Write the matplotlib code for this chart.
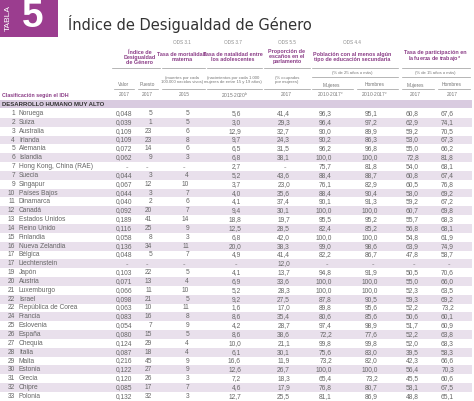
import matplotlib.pyplot as plt
from matplotlib.patches import Rectangle

plt.rcParams["font.family"] = ["Liberation Sans Narrow", "Liberation Sans", "DejaVu Sans"]

ranks = ["1", "2", "3", "4", "5", "6", "7", "7", "9", "10", "11", "12", "13", "14", "15", "16",
         "17", "17", "19", "20", "21", "22", "22", "24", "25", "26", "27", "28", "29", "30", "31", "32", "33"]
countries = ["Noruega", "Suiza", "Australia", "Irlanda", "Alemania", "Islandia", "Hong Kong, China (RAE)",
             "Suecia", "Singapur", "Países Bajos", "Dinamarca", "Canadá", "Estados Unidos", "Reino Unido",
             "Finlandia", "Nueva Zelandia", "Bélgica", "Liechtenstein", "Japón", "Austria", "Luxemburgo",
             "Israel", "República de Corea", "Francia", "Eslovenia", "España", "Chequia", "Italia", "Malta",
             "Estonia", "Grecia", "Chipre", "Polonia"]
idg_valor = ["0,048", "0,039", "0,109", "0,109", "0,072", "0,062", "..", "0,044", "0,067", "0,044", "0,040",
             "0,092", "0,189", "0,116", "0,058", "0,136", "0,048", "..", "0,103", "0,071", "0,066", "0,098",
             "0,063", "0,083", "0,054", "0,080", "0,124", "0,087", "0,216", "0,122", "0,120", "0,085", "0,132"]
idg_puesto = ["5", "1", "23", "23", "14", "9", "..", "3", "12", "3", "2", "20", "41", "25", "8", "34", "5", "..",
              "22", "13", "11", "21", "10", "16", "7", "15", "29", "18", "45", "27", "26", "17", "32"]
mortalidad = ["5", "5", "6", "8", "6", "3", "..", "4", "10", "7", "6", "7", "14", "9", "3", "11", "7", "..",
              "5", "4", "10", "5", "11", "8", "9", "5", "4", "4", "9", "9", "3", "7", "3"]
natalidad = ["5,6", "3,0", "12,9", "9,7", "6,5", "6,8", "2,7", "5,2", "3,7", "4,0", "4,1", "9,4", "18,8", "12,5",
             "6,8", "20,0", "4,9", "..", "4,1", "6,9", "5,2", "9,2", "1,6", "8,6", "4,2", "8,6", "10,0", "6,1",
             "16,6", "12,6", "7,2", "4,6", "12,7"]
escanos = ["41,4", "29,3", "32,7", "24,3", "31,5", "38,1", "..", "43,6", "23,0", "35,6", "37,4", "30,1", "19,7",
           "28,5", "42,0", "38,3", "41,4", "12,0", "13,7", "33,6", "28,3", "27,5", "17,0", "35,4", "28,7", "38,6",
           "21,1", "30,1", "11,9", "26,7", "18,3", "17,9", "25,5"]
educ_muj = ["96,3", "96,4", "90,0", "90,2", "96,2", "100,0", "75,7", "88,4", "76,1", "88,4", "90,1", "100,0",
            "95,5", "82,4", "100,0", "99,0", "82,2", "..", "94,8", "100,0", "100,0", "87,8", "89,8", "80,6",
            "97,4", "72,2", "99,8", "75,6", "73,2", "100,0", "65,4", "76,8", "81,1"]
educ_hom = ["95,1", "97,2", "89,9", "86,3", "96,8", "100,0", "81,8", "88,7", "82,9", "90,4", "91,3", "100,0",
            "95,2", "85,2", "100,0", "98,6", "86,7", "..", "91,9", "100,0", "100,0", "90,5", "95,6", "85,6",
            "98,9", "77,6", "99,8", "83,0", "82,0", "100,0", "73,2", "80,7", "86,9"]
lab_muj = ["60,8", "62,9", "59,2", "53,0", "55,0", "72,8", "54,0", "60,8", "60,5", "58,0", "59,2", "60,7",
           "55,7", "56,8", "54,8", "63,9", "47,8", "..", "50,5", "55,0", "52,3", "59,3", "52,2", "50,6", "51,7",
           "52,2", "52,0", "39,5", "42,3", "56,4", "45,5", "58,1", "48,8"]
lab_hom = ["67,6", "74,1", "70,5", "67,3", "66,2", "81,8", "68,1", "67,4", "76,8", "69,2", "67,2", "69,8",
           "68,3", "68,1", "61,9", "74,9", "58,7", "..", "70,6", "66,0", "63,5", "69,2", "73,2", "60,1", "60,9",
           "63,8", "68,3", "58,3", "66,6", "70,3", "60,6", "67,5", "65,1"]

columns = [idg_valor, idg_puesto, mortalidad, natalidad, escanos, educ_muj, educ_hom, lab_muj, lab_hom]
col_right = [132, 152, 189, 241, 290, 332, 378, 419, 454]
col_center = [124, 147, 184, 235, 286, 331, 375, 415, 452]

purple = "#9b3d8f"
stripe = "#e9e0ec"
band = "#d9cbe0"
txt = "#666666"
head = "#8a3c86"

fig = plt.figure(figsize=(4.74, 4.01), dpi=100)
ax = fig.add_axes([0, 0, 1, 1])
ax.set_xlim(0, 474)
ax.set_ylim(401, 0)
ax.axis("off")

# title block
ax.add_patch(Rectangle((0, 0), 58, 37, color=purple, lw=0))
ax.text(8, 18, "TABLA", rotation=90, color="white", fontsize=6, ha="center", va="center")
ax.text(33, 17, "5", color="white", fontsize=28, fontweight="bold", ha="center", va="center")
ax.text(68, 24, "Índice de Desigualdad de Género", fontsize=10.5, color="#333333", va="center",
        family=["DejaVu Sans"])

# group headers
groups = [
    (140, "", "Índice de\nDesigualdad\nde Género", 112, 160),
    (182, "ODS 3.1", "Tasa de mortalidad\nmaterna", 162, 205),
    (233, "ODS 3.7", "Tasa de natalidad entre\nlos adolescentes", 207, 262),
    (287, "ODS 5.5", "Proporción de\nescaños en el\nparlamento", 264, 310),
    (352, "ODS 4.4", "Población con al menos algún\ntipo de educación secundaria", 312, 398),
    (435, "", "Tasa de participación en\nla fuerza de trabajo$^a$", 402, 470),
]
for cx, ods, label, x0, x1 in groups:
    if ods:
        ax.text(cx, 43, ods, fontsize=3.3, color="#888888", ha="center", va="center")
    ax.text(cx, 57, label, fontsize=3.9, color=head, fontweight="bold", ha="center", va="center",
            linespacing=1.0)
    ax.plot([x0, x1], [68, 68], color="#999999", lw=0.5)

units = [(182, "(muertes por cada\n100.000 nacidos vivos)"), (233, "(nacimientos por cada 1.000\nmujeres de entre 15 y 19 años)"),
         (287, "(% ocupados\npor mujeres)"), (352, "(% de 25 años o más)"), (435, "(% de 15 años o más)")]
for cx, u in units:
    yy = 73 if "25" in u or "de 15" in u else 80
    ax.text(cx, yy, u, fontsize=3.1, color="#777777", ha="center", va="center", linespacing=1.0)
ax.plot([312, 398], [77, 77], color="#999999", lw=0.5)
ax.plot([402, 470], [77, 77], color="#999999", lw=0.5)

sub = ["Valor", "Puesto", "", "", "", "Mujeres", "Hombres", "Mujeres", "Hombres"]
years = ["2017", "2017", "2015", "2015-2020$^b$", "2017", "2010-2017$^c$", "2010-2017$^c$", "2017", "2017"]
spans = [(114, 134), (138, 158), (162, 205), (207, 262), (264, 310), (312, 353), (357, 398), (402, 434), (438, 470)]
for cx, s, yr, (x0, x1) in zip(col_center, sub, years, spans):
    if s:
        ax.text(cx, 85, s, fontsize=3.5, color="#777777", ha="center", va="center")
    ax.plot([x0, x1], [89, 89], color="#999999", lw=0.5)
    ax.text(cx, 95, yr, fontsize=3.5, color="#777777", ha="center", va="center")
ax.text(2, 95, "Clasificación según el IDH", fontsize=3.8, color=head, fontweight="bold", va="center")

ax.add_patch(Rectangle((0, 100), 472, 8, color=band, lw=0))
ax.text(2, 104, "DESARROLLO HUMANO MUY ALTO", fontsize=4.3, color="#333333", fontweight="bold", va="center")

y0, dy = 113.5, 8.84
for i, (r, c) in enumerate(zip(ranks, countries)):
    y = y0 + i * dy
    if i % 2 == 1:
        ax.add_patch(Rectangle((0, y - dy / 2), 472, dy, color=stripe, lw=0))
    ax.text(15, y, r, fontsize=4.8, color=txt, ha="right", va="center")
    ax.text(19, y, c, fontsize=4.8, color=txt, ha="left", va="center")
    for col, xr in zip(columns, col_right):
        v = col[i]
        if v == "..":
            ax.text(xr - 5, y, v, fontsize=4.8, color=txt, ha="center", va="center")
        else:
            ax.text(xr, y, v, fontsize=4.8, color=txt, ha="right", va="center")

fig.savefig("out.png", dpi=100)
